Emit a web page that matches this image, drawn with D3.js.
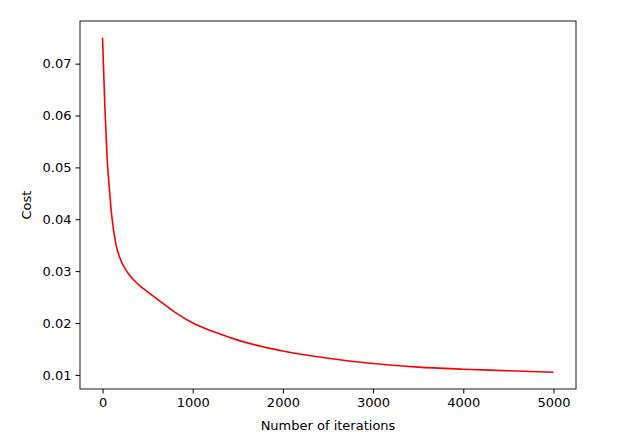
<!DOCTYPE html>
<html><head><meta charset="utf-8">
<script src="https://cdn.jsdelivr.net/npm/d3@7"></script>
<style>body{margin:0;background:#fff}text{font-family:"DejaVu Sans",sans-serif}</style>
</head><body><svg id="c" width="640" height="443"></svg>
<script>
const iterations=[0,25,50,75,100,150,200,250,300,400,500,600,800,1000,1250,1500,2000,2500,3000,3500,4000,4500,5000];
const costs=[0.075,0.062,0.052,0.046,0.041,0.035,0.0322,0.0305,0.0292,0.0274,0.0260,0.0247,0.0221,0.0200,0.0182,0.0167,0.0146,0.0132,0.0122,0.0115,0.0111,0.0108,0.0105];
const xTicks=[0,1000,2000,3000,4000,5000];
const yTicks=[0.01,0.02,0.03,0.04,0.05,0.06,0.07];
const svg=d3.select("#c");
const L=80,R=576,T=21,B=389;
const x=d3.scaleLinear().domain([-250,5250]).range([L,R]);
const y=d3.scaleLinear().domain([0.00728,0.07822]).range([B,T]);
svg.append("g").attr("transform",`translate(0,${B})`).call(d3.axisBottom(x).tickValues(xTicks).tickSize(4.5).tickPadding(4).tickFormat(d3.format("d")))
 .call(g=>{g.select(".domain").remove();g.selectAll("text").attr("font-size",13).attr("fill","#000");});
svg.append("g").attr("transform",`translate(${L},0)`).call(d3.axisLeft(y).tickValues(yTicks).tickSize(4.5).tickPadding(4).tickFormat(d3.format(".2f")))
 .call(g=>{g.select(".domain").remove();g.selectAll("text").attr("font-size",13).attr("fill","#000");});
svg.append("path").datum(iterations.map((d,i)=>[d,costs[i]]))
 .attr("d",d3.line().x(d=>x(d[0])).y(d=>y(d[1])).curve(d3.curveMonotoneX))
 .attr("fill","none").attr("stroke","red").attr("stroke-width",1.6);
svg.append("rect").attr("x",L).attr("y",T).attr("width",R-L).attr("height",B-T).attr("fill","none").attr("stroke","#000").attr("stroke-width",0.9);
svg.append("text").attr("x",(L+R)/2).attr("y",430).attr("text-anchor","middle").attr("font-size",13).text("Number of iterations");
svg.append("text").attr("transform",`translate(31,${(T+B)/2}) rotate(-90)`).attr("text-anchor","middle").attr("font-size",13).text("Cost");
</script></body></html>
